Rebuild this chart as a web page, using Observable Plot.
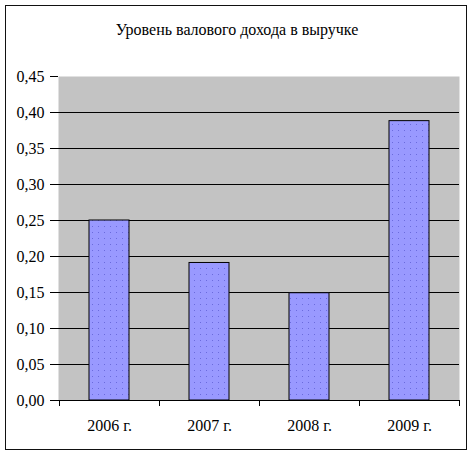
<!DOCTYPE html>
<html>
<head>
<meta charset="utf-8">
<script src="https://cdn.jsdelivr.net/npm/d3@7"></script>
<script src="https://cdn.jsdelivr.net/npm/@observablehq/plot@0.6"></script>
<style>
  html, body { margin: 0; padding: 0; background: #fff; }
  #wrap { position: relative; width: 474px; height: 455px; overflow: hidden; }
  #border { position: absolute; left: 5px; top: 5px; width: 462px; height: 445px; border: 1px solid #111; box-sizing: border-box; }
  #title { position: absolute; left: 0; top: 20px; width: 474px; text-align: center; font-family: "Liberation Serif", "Times New Roman", serif; font-size: 16px; line-height: 19px; color: #000; }
  #chart { position: absolute; left: 0; top: 50px; }
  #chart svg, #chart svg text { font-family: "Liberation Serif", "Times New Roman", serif !important; font-size: 16px; }
</style>
</head>
<body>
<div id="wrap">
  <div id="border"></div>
  <div id="title">Уровень валового дохода в выручке</div>
  <div id="chart"></div>
</div>
<script>
const titleText = "Уровень валового дохода в выручке";
const years = ["2006 г.", "2007 г.", "2008 г.", "2009 г."];
const values = [0.25, 0.191, 0.149, 0.388];
const yTicks = [0, 0.05, 0.10, 0.15, 0.20, 0.25, 0.30, 0.35, 0.40, 0.45];
const gridValues = [0.05, 0.10, 0.15, 0.20, 0.25, 0.30, 0.35, 0.40];

const data = years.map((y, i) => ({year: y, value: values[i]}));

const W = 474, H = 405, mL = 58, mR = 15, mT = 26, mB = 55;
const step = (W - mL - mR) / 4;

const chart = Plot.plot({
  width: W,
  height: H,
  marginLeft: mL,
  marginRight: mR,
  marginTop: mT,
  marginBottom: mB,
  style: {fontFamily: "'Liberation Serif', 'Times New Roman', serif", fontSize: "16px", color: "#000", background: "transparent", overflow: "visible"},
  x: {domain: years, paddingInner: 0.6, paddingOuter: 0.3, label: null},
  y: {domain: [0, 0.45], label: null},
  marks: [
    Plot.frame({fill: "url(#bgpat)", stroke: "none"}),
    Plot.ruleY(gridValues, {stroke: "#000", strokeWidth: 1}),
    Plot.barY(data, {x: "year", y: "value", fill: "url(#barpat)", stroke: "#000", strokeWidth: 1}),
    Plot.ruleY([0], {stroke: "#000", strokeWidth: 1}),
    Plot.ruleX([0], {frameAnchor: "left", stroke: "#000", strokeWidth: 1}),
    Plot.ruleX(years, {x: d => d, y1: 0, y2: 0, dx: -step / 2, insetBottom: -6, stroke: "#000"}),
    Plot.ruleX([years[years.length - 1]], {x: d => d, y1: 0, y2: 0, dx: step / 2, insetBottom: -6, stroke: "#000"}),
    Plot.axisY({ticks: yTicks, tickSize: 8, tickPadding: 6, tickFormat: d => d.toFixed(2).replace(".", ","), stroke: "#000", fill: "#000", label: null}),
    Plot.axisX({tickSize: 0, tickPadding: 19, fill: "#000", label: null})
  ]
});

const ns = "http://www.w3.org/2000/svg";
const defs = document.createElementNS(ns, "defs");
defs.innerHTML = `
  <pattern id="bgpat" patternUnits="userSpaceOnUse" width="2" height="2">
    <rect width="2" height="2" fill="#d6d6d6"/>
    <rect width="1" height="1" fill="#8a8a8a"/>
  </pattern>
  <pattern id="barpat" patternUnits="userSpaceOnUse" width="6" height="6">
    <rect width="6" height="6" fill="#9999ff"/>
    <rect x="2" y="2" width="1" height="1" fill="#6b6bdd"/>
  </pattern>`;
chart.insertBefore(defs, chart.firstChild);
chart.querySelectorAll("line").forEach(l => l.setAttribute("shape-rendering", "crispEdges"));
document.getElementById("chart").appendChild(chart);
</script>
</body>
</html>
